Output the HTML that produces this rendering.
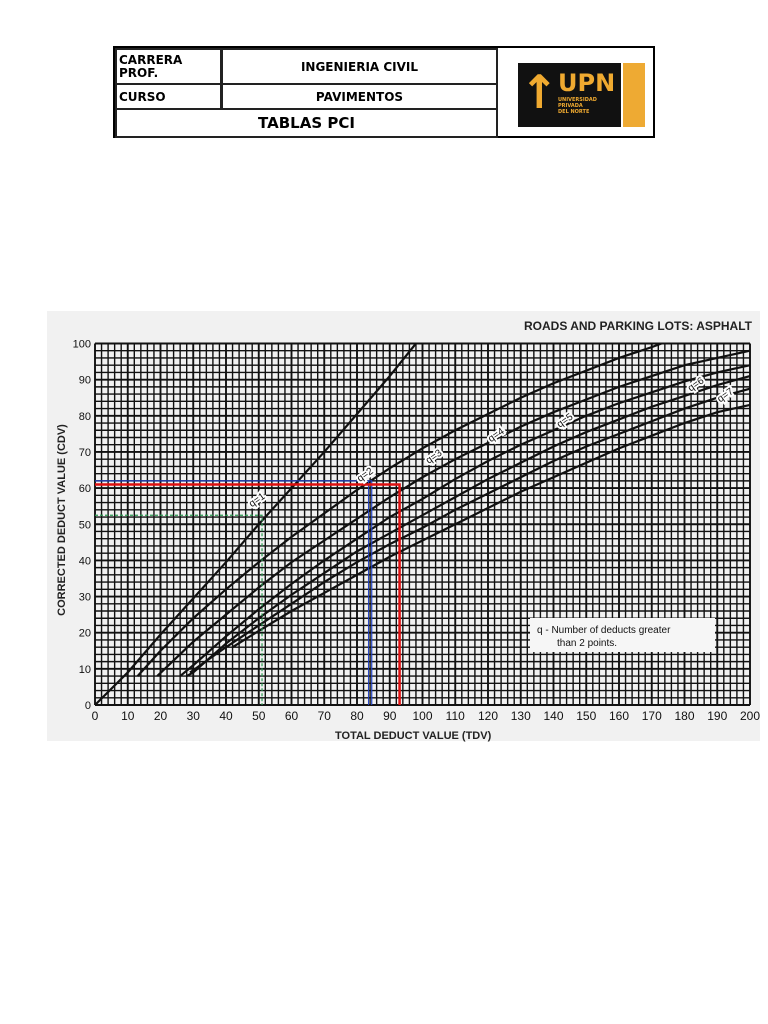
<!DOCTYPE html>
<html><head><meta charset="utf-8"><style>
body{margin:0;width:768px;height:1024px;background:#fff;position:relative;overflow:hidden;font-family:"Liberation Sans",sans-serif}
.hdr{position:absolute;left:113px;top:46px;width:542px;height:92px;border:2px solid #000;box-sizing:border-box}
.c{position:absolute;border:2px solid #222;box-sizing:border-box;font-family:"DejaVu Sans",sans-serif;font-weight:bold;font-size:12px;display:flex;align-items:center}
</style></head><body>
<div class="hdr">
 <div class="c" style="left:0;top:0;width:107px;height:37px;padding-left:2px;line-height:13px">CARRERA<br>PROF.</div>
 <div class="c" style="left:106px;top:0;width:277px;height:37px;justify-content:center">INGENIERIA CIVIL</div>
 <div class="c" style="left:0;top:35px;width:107px;height:27px;padding-left:2px">CURSO</div>
 <div class="c" style="left:106px;top:35px;width:277px;height:27px;justify-content:center">PAVIMENTOS</div>
 <div class="c" style="left:0;top:60px;width:383px;height:30px;justify-content:center;font-size:15px">TABLAS PCI</div>
 <div class="c" style="left:381px;top:0;width:159px;height:90px;border-left:2px solid #222;border-top:0;border-right:0;border-bottom:0">
  <div style="position:absolute;left:20px;top:15px;width:103px;height:64px;background:#111">
   <div style="position:absolute;left:2px;top:4px;font-size:46px;color:#f0aa30;line-height:50px">↑</div>
   <div style="position:absolute;left:40px;top:6px;font-size:24px;color:#f0aa30">UPN</div>
   <div style="position:absolute;left:40px;top:34px;font-size:5px;color:#f0aa30;line-height:6px">UNIVERSIDAD<br>PRIVADA<br>DEL NORTE</div>
  </div>
  <div style="position:absolute;left:125px;top:15px;width:22px;height:64px;background:#eeaa33"></div>
 </div>
</div>
<svg id="chart" style="position:absolute;left:0;top:0" width="768" height="1024">
 <rect x="47" y="311" width="713" height="430" fill="#f1f1f1"/>
 <g id="grid"></g><g id="curves"></g><g id="guides"></g><g id="labels"></g>
</svg>
<script>
const xTicks=[0,10,20,30,40,50,60,70,80,90,100,110,120,130,140,150,160,170,180,190,200];
const yTicks=[0,10,20,30,40,50,60,70,80,90,100];
const curveNames=["q=1","q=2","q=3","q=4","q=5","q=6","q=7"];
const q1=[[0,0],[10,9],[20,19.5],[30,29.5],[40,39.5],[50,50],[60,60],[70,70],[80,80.5],[90,91],[98,100]];
const q2=[[13,8],[20,15],[30,24],[40,32],[50,39.5],[60,46.5],[70,53],[80,59.5],[90,65.5],[100,71],[110,76],[120,80.5],[130,85],[140,89],[150,92.5],[160,96],[170,99],[173,100]];
const q3=[[19,8],[30,17.5],[40,25],[50,32.5],[60,39.5],[70,45.5],[80,51.5],[90,57.5],[100,63],[110,68],[120,72.5],[130,77],[140,81],[150,84.5],[160,88],[170,91],[180,94],[190,96],[200,98]];
const q4=[[26,8],[30,11],[40,19],[50,26.5],[60,33.5],[70,40],[80,46],[90,52],[100,57],[110,62.5],[120,67.5],[130,72],[140,76],[150,80],[160,83.5],[170,86.5],[180,89.5],[190,92],[200,94]];
const q5=[[28,8],[30,9],[40,17],[50,24],[60,30.5],[70,36.5],[80,42.5],[90,47.5],[100,52.5],[110,57.5],[120,62.5],[130,67],[140,71.5],[150,75.5],[160,79],[170,82.5],[180,85.5],[190,88.5],[200,91]];
const q6=[[29,9],[40,16],[50,22],[60,28],[70,34],[80,39.5],[90,44.5],[100,49],[110,54],[120,58.5],[130,63],[140,67.5],[150,71.5],[160,75],[170,78.5],[180,82],[190,85],[200,87.5]];
const q7=[[42,16],[50,20.5],[60,26],[70,31],[80,36],[90,41],[100,45.5],[110,50],[120,54.5],[130,59],[140,63],[150,67],[160,71],[170,74.5],[180,78],[190,81],[200,83]];
const allCurves=[q1,q2,q3,q4,q5,q6,q7];
const labelPos=[[50,56],[83,63],[104,68],[123,74],[144,78],[184,88],[193,85]];
const redRead=[93,61],blueRead=[84.5,62],greenRead=[51,52.5];
const X=v=>95+v*3.275, Y=v=>705-v*3.615;
const NS="http://www.w3.org/2000/svg";
function mk(p,t,a){const e=document.createElementNS(NS,t);for(const k in a)e.setAttribute(k,a[k]);p.appendChild(e);return e;}
const g=document.getElementById('grid');
for(let v=0;v<=200;v+=2){const l=mk(g,'line',{x1:X(v),x2:X(v),y1:Y(0),y2:Y(100),stroke:'#111','stroke-width':v%10==0?1.9:1.4});

}
for(let v=0;v<=100;v+=2){const l=mk(g,'line',{x1:X(0),x2:X(200),y1:Y(v),y2:Y(v),stroke:'#111','stroke-width':v%10==0?1.9:1.4});

}
const lb=document.getElementById('labels');
xTicks.forEach(v=>{const t=mk(lb,'text',{x:X(v),y:720,'text-anchor':'middle','font-size':12,fill:'#111'});t.textContent=v;

});
yTicks.forEach(v=>{const t=mk(lb,'text',{x:91,y:Y(v)+4,'text-anchor':'end','font-size':11,fill:'#111'});t.textContent=v;

});
const cv=document.getElementById('curves');
allCurves.forEach((c,i)=>{const p=mk(cv,'polyline',{points:c.map(d=>X(d[0])+','+Y(d[1])).join(' '),fill:'none',stroke:'#111','stroke-width':2.2});


const [lx,ly]=labelPos[i];const t=mk(lb,'text',{x:X(lx),y:Y(ly),'font-size':10,fill:'#111','text-anchor':'middle',transform:`rotate(-35 ${X(lx)} ${Y(ly)})`,stroke:'#fff','stroke-width':4,'paint-order':'stroke'});t.textContent=curveNames[i];

});
const gd=document.getElementById('guides');
function guide(r,col,w,dash,name){const p=mk(gd,'polyline',{points:`${X(0)},${Y(r[1])} ${X(r[0])},${Y(r[1])} ${X(r[0])},${Y(0)}`,fill:'none',stroke:col,'stroke-width':w,'stroke-dasharray':dash});

}
guide(greenRead,'#2a9a50',1.2,'3 2','green-reading');
guide(blueRead,'#2040c0',1.2,'','blue-reading');
mk(gd,'line',{x1:X(blueRead[0]-1),x2:X(blueRead[0]-1),y1:Y(blueRead[1]),y2:Y(0),stroke:'#2040c0','stroke-width':1});
guide(redRead,'#e01010',2.5,'','red-reading');
const t1=mk(lb,'text',{x:752,y:330,'text-anchor':'end','font-size':12,'font-weight':'bold',fill:'#222'});t1.textContent='ROADS AND PARKING LOTS:  ASPHALT';


const t2=mk(lb,'text',{x:335,y:739,'font-size':11,'font-weight':'bold',fill:'#222'});t2.textContent='TOTAL DEDUCT VALUE (TDV)';


const t3=mk(lb,'text',{x:65,y:520,'text-anchor':'middle','font-size':11,'font-weight':'bold',fill:'#222',transform:'rotate(-90 65 520)'});t3.textContent='CORRECTED DEDUCT VALUE (CDV)';


const bx=mk(lb,'rect',{x:530,y:618,width:185,height:34,fill:'#f6f6f6'});


const n1=mk(lb,'text',{x:537,y:633,'font-size':10,fill:'#111'});n1.textContent='q - Number of deducts greater';


const n2=mk(lb,'text',{x:557,y:646,'font-size':10,fill:'#111'});n2.textContent='than 2 points.';


</script>
</body></html>
